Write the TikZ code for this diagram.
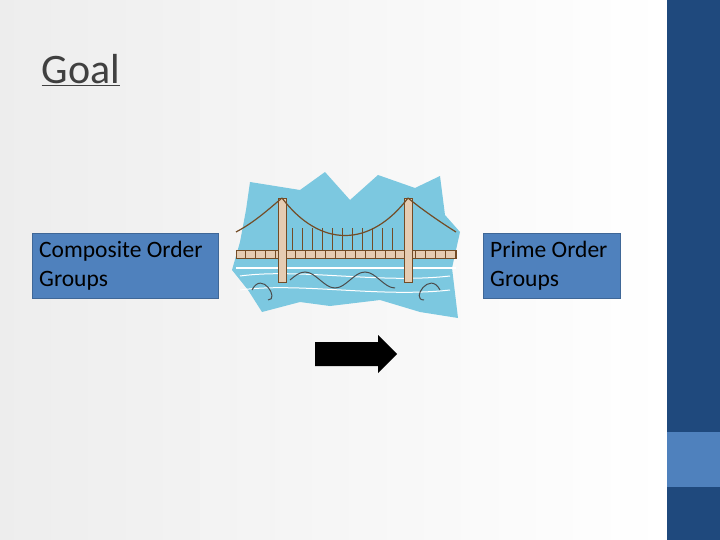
\documentclass[tikz,border=0pt]{standalone}
\usepackage{fontspec}
\setmainfont{Carlito}
\begin{document}
\begin{tikzpicture}[x=1pt,y=-1pt,
  box/.style={fill=boxblue,draw=boxblue!80!black,text width=#1-14,minimum height=65,align=flush left,anchor=north west,inner xsep=7pt,inner ysep=4pt,font=\fontsize{23.5}{29}\selectfont},
  cable/.style={draw=brown!60!black,line width=1.2pt}]
\definecolor{boxblue}{HTML}{4F81BD}
\definecolor{barblue}{HTML}{1F497D}
\definecolor{sky}{HTML}{7CC8E0}
\useasboundingbox (0,0) rectangle (720,540);
\fill[white] (0,0) rectangle (720,540);
\shade[left color=gray!14,right color=white] (0,0) rectangle (666,540);
\fill[barblue] (667,0) rectangle (720,540);
\fill[boxblue] (667,432) rectangle (720,487);
\node[anchor=west,text=black!75,font=\fontsize{42}{48}\selectfont] (title) at (38,70) {\underline{Goal}};
\node[box=186] (left) at (32,233) {Composite Order\\Groups};
\node[box=137] (right) at (483,233) {Prime Order\\Groups};
% bridge clipart
\fill[sky] (250,182)--(300,190)--(325,172)--(350,200)--(378,175)--(415,188)--(440,176)--(445,215)--(460,232)--(452,268)--(458,318)--(420,312)--(380,300)--(330,306)--(300,302)--(262,312)--(248,290)--(232,270)--(240,242)--(246,210)--cycle;
\draw[white,line width=1.5pt] (236,268)--(456,268);
\foreach \y in {276,290} \draw[white,line width=1pt] (240,\y) .. controls (300,\y-8) and (380,\y+8) .. (450,\y);
\draw[black!70,line width=1pt] (252,290) .. controls (262,270) and (280,300) .. (268,300);
\draw[black!70,line width=1pt] (290,280) sin (305,272) cos (320,280) sin (335,288) cos (350,280) sin (365,272) cos (380,280) sin (395,288);
\draw[black!70,line width=1pt] (440,290) .. controls (430,270) and (410,300) .. (424,300);
\fill[brown!40!white,draw=brown!60!black] (236,250) rectangle (456,258);
\foreach \x in {245,255,...,455} \draw[brown!60!black] (\x,250)--(\x,258);
\foreach \tx in {282,408}{
  \fill[brown!40!white,draw=brown!60!black] (\tx-4,198) rectangle (\tx+4,282);
}
\draw[cable] (236,232) .. controls (255,222) and (270,208) .. (282,198);
\draw[cable] (282,198) .. controls (320,248) and (370,248) .. (408,198);
\draw[cable] (408,198) .. controls (420,208) and (440,222) .. (456,232);
\foreach \x in {292,302,...,400} \draw[brown!60!black,thin] (\x,228)--(\x,250);
% arrow
\fill[black] (315,342)--(378,342)--(378,335)--(397,354)--(378,373)--(378,366)--(315,366)--cycle;
\end{tikzpicture}
\end{document}
